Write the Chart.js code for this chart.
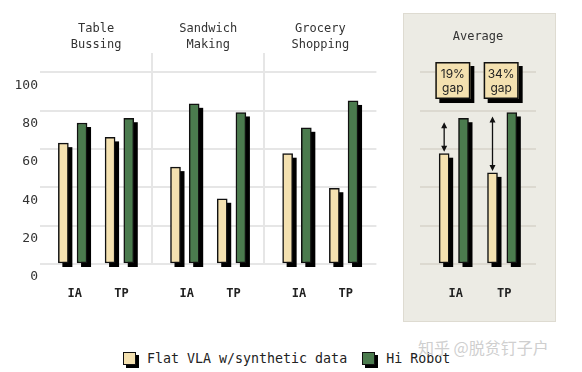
<!DOCTYPE html>
<html>
<head>
<meta charset="utf-8">
<script src="https://cdn.jsdelivr.net/npm/chart.js@4.4.1/dist/chart.umd.min.js"></script>
<style>
  body { margin: 0; background: #fff; }
  #wrap { position: relative; width: 582px; height: 372px; overflow: hidden; }
  #panel { position: absolute; left: 403px; top: 13px; width: 151px; height: 307px;
           background: #ecebe4; border: 1px solid #dedbd1; }
  canvas { position: absolute; top: 0; }
  #mainChart { left: 0; }
  #avgChart { left: 395px; }
  #legend { position: absolute; left: 123px; top: 351px; display: flex; align-items: center;
            font: 13.3px 'DejaVu Sans Mono', monospace; color: #222; white-space: pre; }
  .box { width: 11px; height: 11px; border: 1.5px solid #111; box-shadow: 3px 3px 0 #000; margin-right: 11px; }
  #mark { position: absolute; left: 418px; top: 335px; font: 16px 'Noto Sans CJK SC', sans-serif;
          color: #cfcfcf; white-space: pre; }
</style>
</head>
<body>
<div id="wrap">
  <div id="panel"></div>
  <canvas id="mainChart" width="395" height="310"></canvas>
  <canvas id="avgChart" width="187" height="310"></canvas>
  <div id="legend">
    <span class="box" style="background:#f4e1b0"></span><span>Flat VLA w/synthetic data</span>
    <span class="box" style="background:#4b7b4e; margin-left:15px"></span><span>Hi Robot</span>
  </div>
  <div id="mark">知乎 @脱贫钉子户</div>
</div>
<script>
const taskTitles = [["Table", "Bussing"], ["Sandwich", "Making"], ["Grocery", "Shopping"]];
const methods = ["IA", "TP"];
// per task: [IA, TP]
const flatVla = [[63, 66], [50.5, 34], [57.5, 39.5]];
const hiRobot = [[73.5, 76], [83.5, 79], [71, 85]];
const avgFlat = [57.5, 47.5];
const avgHi = [76, 79];
const gapLabels = ["19%", "34%"];
const yTicks = [0, 20, 40, 60, 80, 100];

const mono = "'DejaVu Sans Mono', monospace";
const cream = "#f4e1b0";
const green = "#4b7b4e";

// each task takes 12 narrow slots: flat/hi bars for IA and TP, label in between
const GROUP = 12;
const BAR_POS = [[2, 4], [7, 9]];
const LABEL_POS = [3, 8];

function buildSlots(flat, hi) {
  const n = flat.length * GROUP;
  const labels = new Array(n).fill("");
  const a = new Array(n).fill(null);
  const b = new Array(n).fill(null);
  flat.forEach((pair, g) => {
    const base = g * GROUP;
    methods.forEach((m, k) => {
      labels[base + LABEL_POS[k]] = m;
      a[base + BAR_POS[k][0]] = pair[k];
      b[base + BAR_POS[k][1]] = hi[g][k];
    });
  });
  return { labels, a, b };
}

const shadowPlugin = {
  id: "barShadow",
  beforeDatasetsDraw(chart) {
    const ctx = chart.ctx;
    ctx.save();
    ctx.fillStyle = "#000";
    chart.data.datasets.forEach((ds, i) => {
      chart.getDatasetMeta(i).data.forEach(bar => {
        const { x, y, base, width } = bar.getProps(["x", "y", "base", "width"], true);
        if (isNaN(y) || isNaN(x)) return;
        ctx.fillRect(x - width / 2 + 4, y + 4, width, base - y);
      });
    });
    ctx.restore();
  }
};

const gapPlugin = {
  id: "gapNotes",
  afterDatasetsDraw(chart) {
    const ctx = chart.ctx;
    const xs = chart.scales.x, ys = chart.scales.y;
    const flatBars = chart.getDatasetMeta(0).data;
    const hiBars = chart.getDatasetMeta(1).data;
    ctx.save();
    avgFlat.forEach((v, k) => {
      const f = flatBars[BAR_POS[k][0]], h = hiBars[BAR_POS[k][1]];
      // double arrow between the two bar tops
      const x = f.x, y1 = h.y + 4, y2 = f.y - 2;
      ctx.strokeStyle = "#111";
      ctx.fillStyle = "#111";
      ctx.lineWidth = 1.3;
      ctx.beginPath();
      ctx.moveTo(x, y1 + 4);
      ctx.lineTo(x, y2 - 4);
      ctx.stroke();
      ctx.beginPath();
      ctx.moveTo(x, y1); ctx.lineTo(x - 3, y1 + 6); ctx.lineTo(x + 3, y1 + 6); ctx.closePath();
      ctx.moveTo(x, y2); ctx.lineTo(x - 3, y2 - 6); ctx.lineTo(x + 3, y2 - 6); ctx.closePath();
      ctx.fill();

      // gap label box
      const cx = xs.getPixelForValue(LABEL_POS[k]) - 1;
      const top = ys.getPixelForValue(105.3);
      const w = 35, hgt = 37;
      ctx.fillStyle = "#000";
      ctx.fillRect(cx - w / 2 + 4, top + 4, w, hgt);
      ctx.fillStyle = cream;
      ctx.fillRect(cx - w / 2, top, w, hgt);
      ctx.lineWidth = 1.5;
      ctx.strokeRect(cx - w / 2 + 0.75, top + 0.75, w - 1.5, hgt - 1.5);
      ctx.fillStyle = "#222";
      ctx.font = "12px Inter, sans-serif";
      ctx.textAlign = "center";
      ctx.textBaseline = "middle";
      ctx.fillText(gapLabels[k], cx, top + 12);
      ctx.fillText("gap", cx, top + 26);
    });
    ctx.restore();
  }
};

function makeChart(id, flat, hi, titles, opts) {
  const s = buildSlots(flat, hi);
  const n = s.labels.length;
  const barStyle = {
    borderColor: "#111",
    borderWidth: 1.5,
    borderSkipped: false,
    barThickness: 10,
    grouped: false
  };
  return new Chart(document.getElementById(id), {
    type: "bar",
    data: {
      labels: s.labels,
      datasets: [
        Object.assign({ label: "Flat VLA w/synthetic data", data: s.a, backgroundColor: cream }, barStyle),
        Object.assign({ label: "Hi Robot", data: s.b, backgroundColor: green }, barStyle)
      ]
    },
    options: {
      responsive: false,
      animation: false,
      layout: { padding: { left: 0, right: opts.right, top: 0, bottom: 0 } },
      plugins: { legend: { display: false }, tooltip: { enabled: false } },
      scales: {
        x: {
          type: "category",
          offset: true,
          grid: {
            offset: true,
            drawTicks: false,
            lineWidth: 2,
            color: c => (c.index > 0 && c.index < n && c.index % GROUP === 0) ? "#e6e6e6" : "rgba(0,0,0,0)"
          },
          border: { display: false },
          ticks: {
            autoSkip: false, maxRotation: 0, padding: 23, labelOffset: 2,
            color: "#222", font: { family: mono, size: 12, weight: "bold" }
          },
          afterFit: sc => { sc.height = 46; }
        },
        x2: {
          type: "category",
          position: "top",
          offset: true,
          labels: titles,
          grid: { display: false },
          border: { display: false },
          ticks: { padding: opts.titlePad, color: "#333", font: { family: mono, size: 12, lineHeight: 1.34 } },
          afterFit: sc => { sc.height = 53; }
        },
        y: {
          min: 0,
          max: 110,
          afterBuildTicks: sc => { sc.ticks = yTicks.map(v => ({ value: v })); },
          grid: { color: opts.gridColor, lineWidth: 2, drawTicks: false },
          border: { display: false },
          ticks: {
            display: opts.yLabels, padding: 2, labelOffset: 13,
            color: "#333", font: { family: mono, size: 13 }
          },
          afterFit: sc => { sc.width = opts.yWidth; }
        }
      }
    },
    plugins: opts.plugins
  });
}

makeChart("mainChart", flatVla, hiRobot, taskTitles, {
  right: 12, yWidth: 40, yLabels: true, titlePad: -8, gridColor: "#e6e6e6", plugins: [shadowPlugin]
});
makeChart("avgChart", [avgFlat], [avgHi], ["Average"], {
  right: 46, yWidth: 25, yLabels: false, titlePad: 0, gridColor: "#dcd9d0", plugins: [shadowPlugin, gapPlugin]
});
</script>
</body>
</html>
